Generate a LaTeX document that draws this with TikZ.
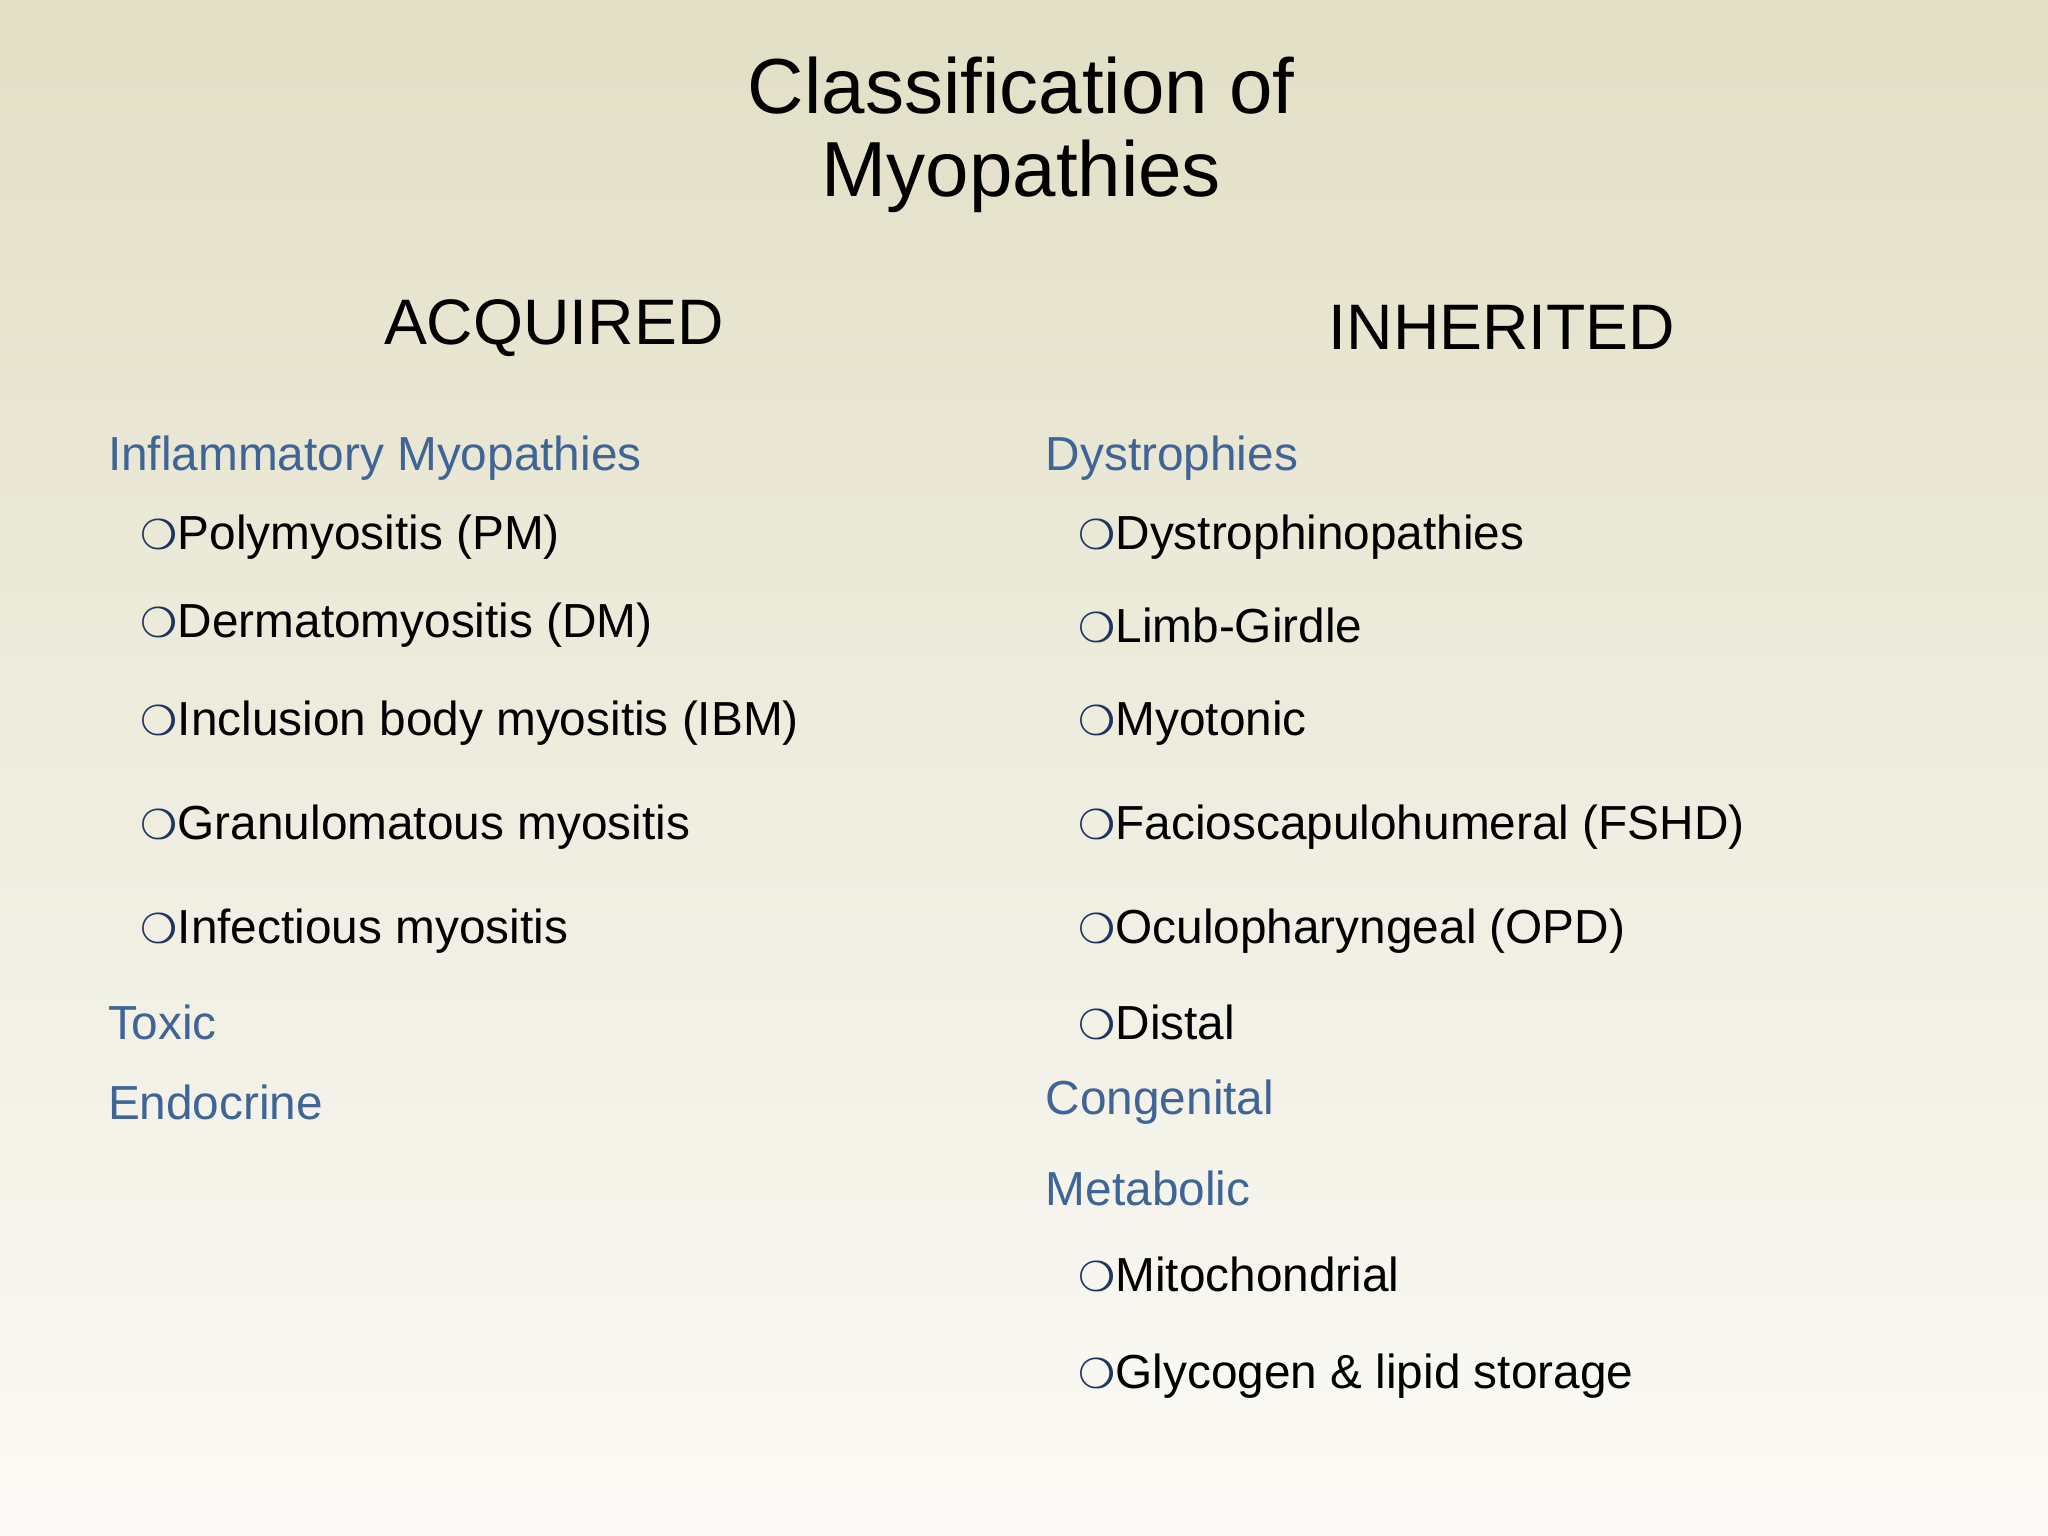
\documentclass[tikz,border=0pt]{standalone}
\usepackage{fontspec}
\setmainfont{Liberation Sans}
\newfontfamily\djfont{DejaVu Sans}
\definecolor{hblue}{HTML}{3F6596}
\definecolor{bnavy}{HTML}{1F3560}
\definecolor{bgtop}{HTML}{E2DFC6}
\definecolor{bgbot}{HTML}{FBFAF6}
\tikzset{
  title/.style={font=\fontsize{17}{20}\selectfont, align=center},
  colhead/.style={font=\fontsize{14}{17}\selectfont},
  cat/.style={anchor=west, text=hblue, font=\fontsize{10.4}{12}\selectfont, inner sep=0pt},
  item/.style={anchor=west, font=\fontsize{10.4}{12}\selectfont, inner sep=0pt},
}
\newcommand{\bul}{{\djfont\color{bnavy}\fontsize{9}{10}\selectfont ❍}}
\begin{document}
\begin{tikzpicture}[x=0.01cm,y=-0.01cm]
\shade[top color=bgtop, bottom color=bgbot] (0,0) rectangle (1568,1176);
\useasboundingbox (0,0) rectangle (1568,1176);
\node[title] (t) at (782,103) {Classification of\\[-2pt]Myopathies};
\node[colhead] (acq) at (424,251) {ACQUIRED};
\node[colhead] (inh) at (1150,251) {INHERITED};
% left
\node[cat] (l1) at (82,351) {Inflammatory Myopathies};
\node[item] (l2) at (107,411) {\bul Polymyositis (PM)};
\node[item] (l3) at (107,479) {\bul Dermatomyositis (DM)};
\node[item] (l4) at (107,554) {\bul Inclusion body myositis (IBM)};
\node[item] (l5) at (107,633) {\bul Granulomatous myositis};
\node[item] (l6) at (107,713) {\bul Infectious myositis};
\node[cat] (l7) at (82,783) {Toxic};
\node[cat] (l8) at (82,844) {Endocrine};
% right
\node[cat] (r1) at (800,351) {Dystrophies};
\node[item] (r2) at (825,411) {\bul Dystrophinopathies};
\node[item] (r3) at (825,479) {\bul Limb-Girdle};
\node[item] (r4) at (825,554) {\bul Myotonic};
\node[item] (r5) at (825,633) {\bul Facioscapulohumeral (FSHD)};
\node[item] (r6) at (825,713) {\bul Oculopharyngeal (OPD)};
\node[item] (r7) at (825,783) {\bul Distal};
\node[cat] (r8) at (800,844) {Congenital};
\node[cat] (r9) at (800,910) {Metabolic};
\node[item] (r10) at (825,976) {\bul Mitochondrial};
\node[item] (r11) at (825,1054) {\bul Glycogen \& lipid storage};
\end{tikzpicture}
\end{document}
